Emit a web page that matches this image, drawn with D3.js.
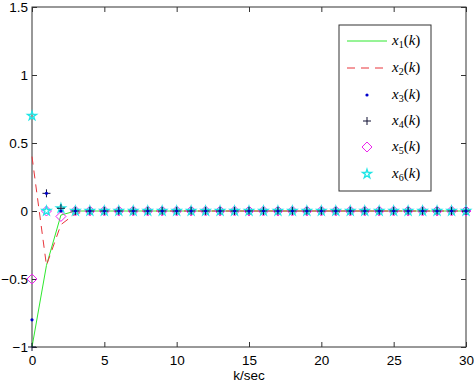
<!DOCTYPE html>
<html>
<head>
<meta charset="utf-8">
<script src="https://cdn.jsdelivr.net/npm/d3@7"></script>
<style>
  body { margin: 0; background: #fff; }
  svg { display: block; }
  .tick text { font-family: "Liberation Sans", Arial, sans-serif; font-size: 13.5px; fill: #000; }
</style>
</head>
<body>
<svg id="chart" width="474" height="383"></svg>
<script>
// k = 0..30
const steps = d3.range(0, 31);

// state trajectories (zero after k = 3)
const x1 = [-1, -0.4, -0.03, 0];
const x2 = [0.4, -0.4, -0.1, -0.02];
const x3 = [-0.8, 0.13, 0, 0];
const x4 = [-1, 0.13, 0.02, 0];
const x5 = [-0.5, 0, -0.04, 0];
const x6 = [0.7, 0, 0.02, 0];

const xTicks = [0, 5, 10, 15, 20, 25, 30];
const yTicks = [-1, -0.5, 0, 0.5, 1, 1.5];

const full = arr => steps.map(k => ({ k, v: k < arr.length ? arr[k] : 0 }));

const svg = d3.select("#chart");
const mLeft = 32, mRight = 466, mTop = 7, mBottom = 347;

const x = d3.scaleLinear().domain([0, 30]).range([mLeft, mRight]);
const y = d3.scaleLinear().domain([-1, 1.5]).range([mBottom, mTop]);

// axes (MATLAB box style, ticks inside)
svg.append("g")
  .attr("transform", `translate(0,${mBottom})`)
  .call(d3.axisBottom(x).tickValues(xTicks).tickSize(-5).tickPadding(8).tickFormat(d3.format("d")))
  .call(g => g.select(".domain").remove());
svg.append("g")
  .attr("transform", `translate(${mLeft},0)`)
  .call(d3.axisLeft(y).tickValues(yTicks).tickSize(-5).tickPadding(4).tickFormat(d => d))
  .call(g => g.select(".domain").remove());
svg.append("g")
  .attr("transform", `translate(0,${mTop})`)
  .call(d3.axisTop(x).tickValues(xTicks).tickSize(-5).tickFormat(""))
  .call(g => g.select(".domain").remove());
svg.append("g")
  .attr("transform", `translate(${mRight},0)`)
  .call(d3.axisRight(y).tickValues(yTicks).tickSize(-5).tickFormat(""))
  .call(g => g.select(".domain").remove());
svg.selectAll(".tick line").attr("stroke", "#333");
svg.selectAll(".tick text").text(function () { return this.textContent.replace("-", "\u2212"); });

svg.append("rect")
  .attr("x", mLeft).attr("y", mTop)
  .attr("width", mRight - mLeft).attr("height", mBottom - mTop)
  .attr("fill", "none").attr("stroke", "#333").attr("stroke-width", 1);

svg.append("text")
  .attr("x", (mLeft + mRight) / 2).attr("y", 380)
  .attr("text-anchor", "middle")
  .attr("font-family", "Liberation Sans, Arial, sans-serif")
  .attr("font-size", 13.5)
  .text("k/sec");

const plot = svg.append("g");
const line = d3.line().x(d => x(d.k)).y(d => y(d.v));

plot.append("path").datum(full(x1))
  .attr("d", line).attr("fill", "none").attr("stroke", "#2ee82e").attr("stroke-width", 1);
plot.append("path").datum(full(x2))
  .attr("d", line).attr("fill", "none").attr("stroke", "#e8353a").attr("stroke-width", 1)
  .attr("stroke-dasharray", "8,6");

// markers
const diamond = s => `M0,${-s}L${s},0L0,${s}L${-s},0Z`;
const star = d3.symbol().type(d3.symbolStar).size(24);

function drawDots(g) {
  g.append("circle").attr("r", 1.6).attr("fill", "#0000cc");
}
function drawPlus(g) {
  g.append("path").attr("d", "M-4,0H4M0,-4V4").attr("stroke", "#111133").attr("stroke-width", 1);
}
function drawDiamond(g) {
  g.append("path").attr("d", diamond(5)).attr("fill", "none").attr("stroke", "#ee22ee").attr("stroke-width", 1);
}
function drawStar(g) {
  g.append("path").attr("d", star()).attr("fill", "none").attr("stroke", "#22e6e6").attr("stroke-width", 1.4);
}

const markerSeries = [
  { data: x5, draw: drawDiamond },
  { data: x6, draw: drawStar },
  { data: x4, draw: drawPlus },
  { data: x3, draw: drawDots }
];
markerSeries.forEach(s => {
  plot.selectAll(null).data(full(s.data)).join("g")
    .attr("transform", d => `translate(${x(d.k)},${y(d.v)})`)
    .each(function () { s.draw(d3.select(this)); });
});

// legend
const legend = svg.append("g");
legend.append("rect")
  .attr("x", 339).attr("y", 25).attr("width", 92).attr("height", 166)
  .attr("fill", "#fff").attr("stroke", "#333");

const labels = ["1", "2", "3", "4", "5", "6"];
const rowY = [41, 68, 95, 121, 147, 174];
const drawers = [
  g => g.append("line").attr("x1", -20).attr("x2", 20).attr("stroke", "#2ee82e"),
  g => g.append("line").attr("x1", -20).attr("x2", 20).attr("stroke", "#e8353a").attr("stroke-dasharray", "8,6"),
  drawDots, drawPlus, drawDiamond, drawStar
];
labels.forEach((lab, i) => {
  const g = legend.append("g").attr("transform", `translate(367,${rowY[i]})`);
  drawers[i](g);
  const t = legend.append("text")
    .attr("x", 392).attr("y", rowY[i] + 4)
    .attr("font-family", "Liberation Serif, serif")
    .attr("font-size", 15);
  t.append("tspan").attr("font-style", "italic").text("x");
  t.append("tspan").attr("font-size", 10).attr("dy", 3).text(lab);
  t.append("tspan").attr("dy", -3).text("(");
  t.append("tspan").attr("font-style", "italic").text("k");
  t.append("tspan").text(")");
});
</script>
</body>
</html>
